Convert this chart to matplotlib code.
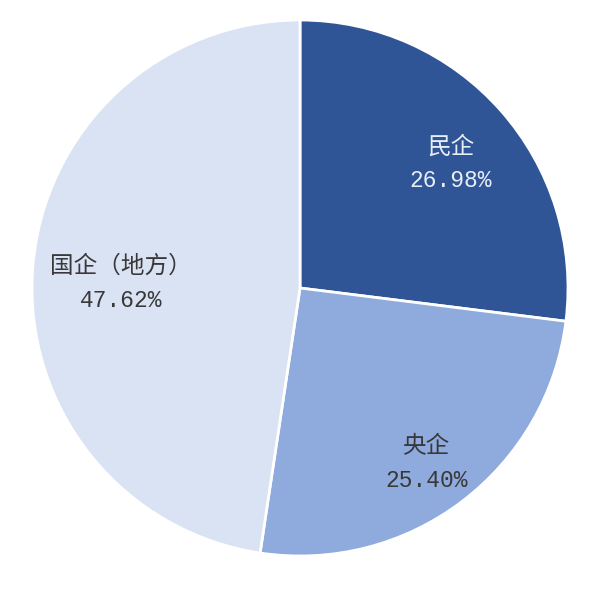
import matplotlib.pyplot as plt
import numpy as np

plt.rcParams['font.family'] = ['Liberation Serif', 'Noto Sans CJK SC', 'DejaVu Sans']

labels = ['民企', '央企', '国企（地方）']
shares = [26.98, 25.40, 47.62]
colores = ['#2F5597', '#8FAADC', '#DAE3F3']
txt_col = ['#E8EEF8', '#383838', '#383838']
dist = [0.75, 0.78, 0.67]

fig = plt.figure(figsize=(6, 5.91), dpi=100)
ax = fig.add_axes([0, 0, 1, 1])
wedges, _ = ax.pie(shares, colors=colores, startangle=90, counterclock=False,
                   radius=1.0, center=(0, 0),
                   wedgeprops=dict(edgecolor='white', linewidth=2))

r_px = 268
off = 17 / r_px  # media distancia entre renglones

# etiquetas en el centro de cada porcion
for w, lab, val, c, d in zip(wedges, labels, shares, txt_col, dist):
    ang = np.deg2rad((w.theta1 + w.theta2) / 2)
    x = d * np.cos(ang)
    y = d * np.sin(ang) - 9 / r_px
    ax.text(x, y + off, lab, ha='center', va='center', fontsize=17,
            color=c, family=['Noto Sans CJK SC', 'DejaVu Sans'])
    ax.text(x, y - off, '%.2f%%' % val, ha='center', va='center',
            fontsize=16.5, color=c, family=['Liberation Mono', 'DejaVu Sans Mono'])

# pie centrado en (300, 288) px con radio ~268 px
ax.set_xlim(-300 / r_px, 300 / r_px)
ax.set_ylim(-(591 - 288) / r_px, 288 / r_px)
ax.set_aspect('equal')
ax.axis('off')
plt.savefig('out.png', dpi=100)
